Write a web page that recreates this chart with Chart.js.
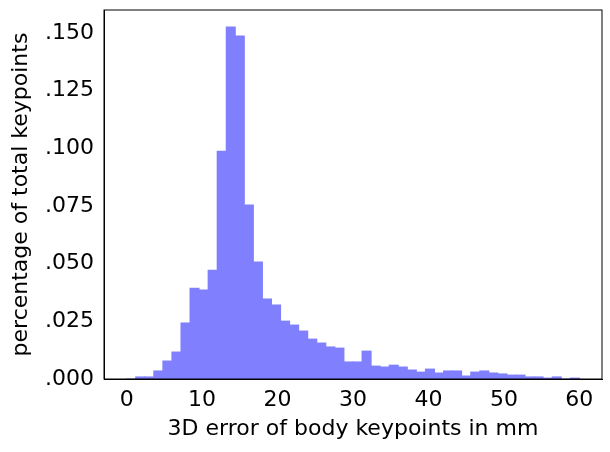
<!DOCTYPE html>
<html>
<head>
<meta charset="utf-8">
<script src="https://cdn.jsdelivr.net/npm/chart.js@4/dist/chart.umd.min.js"></script>
<style>
  body { margin: 0; background: #fff; }
  #wrap { width: 610px; height: 452px; }
</style>
</head>
<body>
<div id="wrap"><canvas id="grafica"></canvas></div>
<script>
// histogram bins: 50 bins of width 1.2 from 0 to 60
const anchoBin = 1.2;
const frecuencias = [
  0, 0.0009, 0.0009, 0.0035, 0.0078, 0.0117, 0.0243, 0.0394, 0.0386, 0.0472,
  0.0988, 0.1526, 0.1487, 0.0754, 0.0507, 0.0347, 0.0321, 0.0251, 0.0234, 0.0208,
  0.0173, 0.0156, 0.0139, 0.0134, 0.0074, 0.0074, 0.0121, 0.0056, 0.0052, 0.0060,
  0.0052, 0.0039, 0.0030, 0.0043, 0.0026, 0.0035, 0.0035, 0.0013, 0.0030, 0.0035,
  0.0026, 0.0022, 0.0017, 0.0017, 0.0009, 0.0009, 0.0004, 0.0009, 0, 0.0004
];
const ticksX = [0, 10, 20, 30, 40, 50, 60];
const ticksY = [0, 0.025, 0.05, 0.075, 0.1, 0.125, 0.15];

const puntos = frecuencias.map((v, i) => ({ x: (i + 0.5) * anchoBin, y: v }));
const fuente = { family: 'DejaVu Sans', size: 22 };

new Chart(document.getElementById('grafica'), {
  type: 'bar',
  data: {
    datasets: [{
      data: puntos,
      backgroundColor: '#8080ff', // azul al 50% sobre blanco
      borderWidth: 0,
      barPercentage: 1,
      categoryPercentage: 1,
      inflateAmount: 0.5
    }]
  },
  options: {
    responsive: true,
    maintainAspectRatio: false,
    animation: false,
    layout: { padding: { top: 10, right: 8, left: 8, bottom: 0 } },
    plugins: { legend: { display: false }, tooltip: { enabled: false } },
    scales: {
      x: {
        type: 'linear',
        offset: false,
        min: -3, max: 63,
        grid: { display: false, offset: false, drawTicks: true, tickLength: 6, tickColor: '#000' },
        border: { color: '#000', width: 1 },
        afterBuildTicks: s => { s.ticks = ticksX.map(v => ({ value: v })); },
        ticks: { color: '#000', font: fuente, maxRotation: 0, padding: 2 },
        title: { display: true, text: '3D error of body keypoints in mm', color: '#000', font: fuente, padding: { top: 0, bottom: 10 } },
        afterFit: s => { s.height = 73; s.paddingLeft = 0; s.paddingRight = 0; }
      },
      y: {
        min: 0, max: 0.16,
        grid: { display: false, drawTicks: true, tickLength: 6, tickColor: '#000' },
        border: { color: '#000', width: 1 },
        afterBuildTicks: s => { s.ticks = ticksY.map(v => ({ value: v })); },
        ticks: {
          color: '#000', font: fuente, padding: 4,
          callback: v => v.toFixed(3).replace(/^0/, '')
        },
        title: { display: true, text: 'percentage of total keypoints', color: '#000', font: fuente, padding: 0 },
        afterFit: s => { s.width = 96; s.paddingTop = 0; s.paddingBottom = 0; }
      }
    }
  },
  plugins: [{
    id: 'marco',
    afterDraw(chart) {
      const { ctx, chartArea: a } = chart;
      ctx.save();
      ctx.strokeStyle = '#000';
      ctx.lineWidth = 1;
      ctx.strokeRect(a.left, a.top, a.right - a.left, a.bottom - a.top);
      ctx.restore();
    }
  }]
});
</script>
</body>
</html>
